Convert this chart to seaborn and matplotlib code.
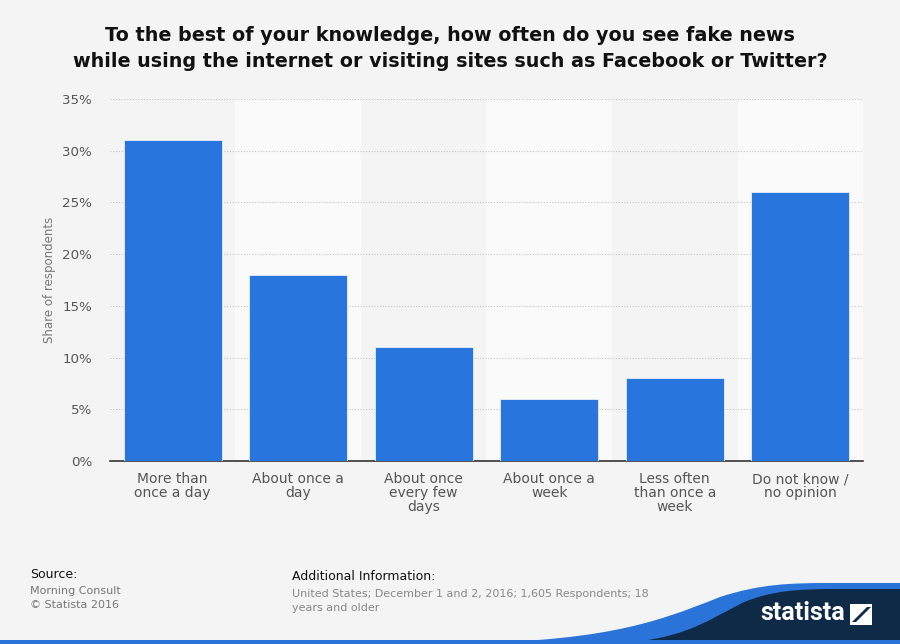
import matplotlib
matplotlib.use("Agg")
import matplotlib.pyplot as plt
import seaborn as sns
import numpy as np
import pandas as pd
from matplotlib.patches import Polygon, Rectangle
from matplotlib.path import Path
from matplotlib.patches import PathPatch
from matplotlib.ticker import FuncFormatter, MultipleLocator

categories = ["More than\nonce a day", "About once a\nday", "About once\nevery few\ndays",
              "About once a\nweek", "Less often\nthan once a\nweek", "Do not know /\nno opinion"]
values = [31, 18, 11, 6, 8, 26]

sns.set_theme(style="white")
plt.rcParams['font.family'] = ['DejaVu Sans']

BG = "#f4f4f4"
BAR = "#2876dd"

fig = plt.figure(figsize=(9, 6.44), dpi=100, facecolor=BG)
ax = fig.add_axes([0.1222, 0.2842, 0.8367, 0.5621])
ax.set_facecolor(BG)

df = pd.DataFrame({"cat": categories, "val": values})

# alternating column bands
for i in range(len(categories)):
    if i % 2 == 1:
        ax.axvspan(i - 0.5, i + 0.5, color="#fafafa", zorder=0, lw=0)

sns.barplot(data=df, x="cat", y="val", color=BAR, saturation=1, width=0.78, ax=ax, zorder=3,
            edgecolor="#e8eefa", linewidth=0.6)

ax.set_xlim(-0.5, len(categories) - 0.5)
ax.set_ylim(0, 35)
ax.yaxis.set_major_locator(MultipleLocator(5))
ax.yaxis.set_major_formatter(FuncFormatter(lambda v, p: f"{int(v)}%"))
ax.grid(axis="y", color="#c4c4c4", linestyle=(0, (1, 1.5)), linewidth=0.8, zorder=1)
ax.set_axisbelow(True)
for s in ["top", "right", "left"]:
    ax.spines[s].set_visible(False)
ax.spines["bottom"].set_color("#333333")
ax.spines["bottom"].set_linewidth(1.2)
ax.tick_params(axis="y", length=0, labelsize=9.6, labelcolor="#555555", pad=13)
ax.tick_params(axis="x", length=0, labelsize=10, labelcolor="#555555", pad=8)
ax.set_xlabel("")
ax.set_ylabel("Share of respondents", fontsize=8.5, color="#777777", labelpad=4)
for lbl in ax.get_xticklabels():
    lbl.set_linespacing(1.0)

fig.text(0.5, 0.925, "To the best of your knowledge, how often do you see fake news\nwhile using the internet or visiting sites such as Facebook or Twitter?",
         ha="center", va="center", fontsize=13.75, fontweight="bold", color="#111111", linespacing=1.45)

# footer
fig.text(0.033, 0.103, "Source:", fontsize=9, color="#111111")
fig.text(0.033, 0.078, "Morning Consult", fontsize=8, color="#777777")
fig.text(0.033, 0.056, "© Statista 2016", fontsize=8, color="#777777")
fig.text(0.325, 0.100, "Additional Information:", fontsize=9, color="#111111")
fig.text(0.325, 0.073, "United States; December 1 and 2, 2016; 1,605 Respondents; 18", fontsize=8, color="#888888")
fig.text(0.325, 0.051, "years and older", fontsize=8, color="#888888")

# swoosh: figure pixel coords -> fraction
W, H = 900.0, 644.0
def fp(x, y):
    return (x / W, 1 - y / H)

codes = [Path.MOVETO, Path.CURVE4, Path.CURVE4, Path.CURVE4, Path.CURVE4, Path.CURVE4, Path.CURVE4,
         Path.LINETO, Path.LINETO, Path.LINETO, Path.CLOSEPOLY]
verts_b = [fp(440, 644), fp(600, 642), fp(650, 625), fp(720, 597), fp(760, 584), fp(790, 583),
           fp(830, 583), fp(900, 583), fp(900, 644), fp(440, 644), fp(440, 644)]
fig.patches.append(PathPatch(Path(verts_b, codes), facecolor="#2a73d8", edgecolor="none",
                             transform=fig.transFigure, zorder=1))
verts_d = [fp(610, 644), fp(680, 640), fp(700, 625), fp(742, 603), fp(772, 590), fp(800, 589),
           fp(840, 589), fp(900, 589), fp(900, 644), fp(610, 644), fp(610, 644)]
fig.patches.append(PathPatch(Path(verts_d, codes), facecolor="#0e2a47", edgecolor="none",
                             transform=fig.transFigure, zorder=2))
fig.patches.append(Rectangle((0, 0), 1, 4 / H, facecolor="#2a73d8", edgecolor="none",
                             transform=fig.transFigure, zorder=3))
fig.text(845 / W, 1 - 613 / H, "statista", fontsize=18, fontweight="bold", color="white", zorder=5,
         va="center", ha="right", family=["Roboto", "DejaVu Sans"])
# logo mark
fig.patches.append(Rectangle(fp(850, 625), 22 / W, 21 / H, facecolor="white", edgecolor="none",
                             transform=fig.transFigure, zorder=5))
fig.patches.append(Polygon([fp(852, 622), fp(867, 607), fp(871, 607), fp(856, 622)], closed=True,
                           facecolor="#0e2a47", edgecolor="none", transform=fig.transFigure, zorder=6))

fig.savefig("out.png", dpi=100, facecolor=BG)
